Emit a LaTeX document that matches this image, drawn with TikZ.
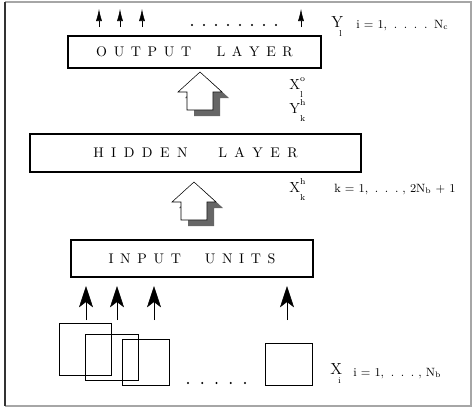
\documentclass[tikz,border=0pt]{standalone}
\usepackage{fontspec}
\usetikzlibrary{arrows.meta,positioning}
\newlength\lsgap
\setlength\lsgap{5pt}
\newcommand{\ls}{\hspace{\lsgap}}
\newcommand{\dt}{\hspace{5pt}.}
\newcommand{\lbl}[3]{#1\rlap{\raisebox{1.25ex}{\fontsize{6.5}{7}\selectfont #2}}\raisebox{-1.4ex}{\fontsize{6.5}{7}\selectfont #3}}
\tikzset{layer/.style={draw,thick,inner sep=0pt,font=\fontsize{10.5}{12}\selectfont},
         unit/.style={draw,thin,inner sep=0pt},
         outtip/.style={-{Latex[length=9pt,width=4.5pt]}},
         intip/.style={-{Stealth[length=16pt,width=10.5pt,inset=4pt]}},
         rng/.style={anchor=base west,inner sep=0pt,font=\fontsize{9}{11}\selectfont},
         sym/.style={anchor=base west,inner sep=0pt,font=\fontsize{12}{14}\selectfont},
         uparrow/.pic={
             \fill[black!60,shift={(7,6)}] (0,0) -- (-22,20) -- (-13,20) -- (-13,38) -- (13,38) -- (13,20) -- (22,20) -- cycle;
             \filldraw[fill=white] (0,0) -- (-22,20) -- (-13,20) -- (-13,38) -- (13,38) -- (13,20) -- (22,20) -- cycle;
         }}

\begin{document}
\begin{tikzpicture}[x=0.75pt,y=-0.75pt]
    \useasboundingbox (0,0) rectangle (474,412);
    % scan frame
    \draw[gray!70,thick] (5,2) -- (471,2) -- (471,406) -- (5,406);
    \draw[black!80,thick] (5,2) -- (5,406);

    % the three layers
    \node (out) [layer,minimum width=189.75pt,minimum height=24pt]  at (194.5,52)
        {O\ls U\ls T\ls P\ls U\ls T\hspace{19pt}L\ls A\ls Y\ls E\ls R};
    \node (hid) [layer,minimum width=248.25pt,minimum height=28.5pt] at (195.5,153)
        {\setlength\lsgap{5.6pt}H\ls I\ls D\ls D\ls E\ls N\hspace{23pt}L\ls A\ls Y\ls E\ls R};
    \node (inp) [layer,minimum width=181.5pt,minimum height=27.75pt] at (192,258.5)
        {I\ls N\ls P\ls U\ls T\hspace{18pt}U\ls N\ls I\ls T\ls S};

    % outputs
    \foreach \x/\n in {99/1,120/2,142/3,301/4} {
        \coordinate (yb\n) at (\x,27);
        \coordinate (yt\n) at (\x,9);
        \draw[outtip] (yb\n) -- (yt\n);
    }
    \foreach \x in {192,204,...,276}
        \fill (\x,25) circle (1.1);

    % weights between layers
    \pic at (200,72)  {uparrow};
    \pic at (194,182) {uparrow};

    % input windows
    \node (x1) [unit,minimum width=39pt,minimum height=39pt]      at (85,349)    {};
    \node (x2) [unit,minimum width=39.75pt,minimum height=34.5pt] at (111.5,357) {};
    \node (x3) [unit,minimum width=35.25pt,minimum height=34.5pt] at (145.5,362) {};
    \node (x4) [unit,minimum width=35.25pt,minimum height=31.5pt] at (288.5,364) {};
    \foreach \x/\n in {86/1,117/2,154/3,287/4} {
        \coordinate (xb\n) at (\x,320);
        \coordinate (xt\n) at (\x,286);
        \draw[intip] (xb\n) -- (xt\n);
    }
    \foreach \x in {188,202.25,...,246}
        \fill (\x,383) circle (1.1);

    % labels
    \node (ylab) [sym] at (331,27)  {\lbl{Y\kern-3pt}{}{l}};
    \node (yrng) [rng] at (356,28)  {i = 1,\dt\dt\dt\dt\hspace{5pt}N$_{\mathrm{c}}$};
    \node (xo)   [sym,font=\fontsize{11}{13}\selectfont] at (289,89)  {\lbl{X}{o}{l}};
    \node (yh)   [sym,font=\fontsize{11}{13}\selectfont] at (289,113) {\lbl{Y}{h}{k}};
    \node (xh)   [sym,font=\fontsize{11}{13}\selectfont] at (289,192) {\lbl{X}{h}{k}};
    \node (krng) [rng] at (334,192) {k = 1,\dt\dt\dt\hspace{3pt}, 2N$_{\mathrm{b}}$ + 1};
    \node (xlab) [sym] at (330,374) {\lbl{X\kern-3pt}{}{i}};
    \node (irng) [rng] at (353,376) {i = 1,\dt\dt\dt\hspace{3pt}, N$_{\mathrm{b}}$};
\end{tikzpicture}
\end{document}
